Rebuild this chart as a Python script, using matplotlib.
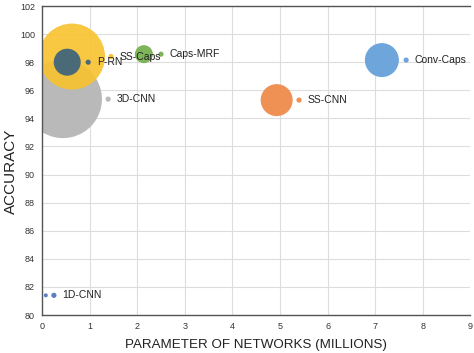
import matplotlib.pyplot as plt

plt.rcParams['font.family'] = ['Liberation Sans', 'DejaVu Sans']

models = ['1D-CNN', '3D-CNN', 'SS-Caps', 'P-RN', 'Caps-MRF', 'SS-CNN', 'Conv-Caps']
# bubble centres
bubble_x = [0.08, 0.44, 0.63, 0.53, 2.14, 4.93, 7.14]
bubble_y = [81.4, 95.37, 98.4, 98.0, 98.57, 95.3, 98.15]
# bubble radius (relative units, as drawn)
bubble_r = [2, 39, 33, 13.5, 9, 16, 17]
# label markers
dot_x = [0.25, 1.39, 1.45, 0.97, 2.5, 5.4, 7.65]
dot_y = [81.4, 95.37, 98.4, 98.0, 98.57, 95.3, 98.15]
colors = ['#5b7fbf', '#b9b9b9', '#f9c22e', '#4b6a78', '#7fb55a', '#ef9055', '#6ea6dc']
order = [1, 2, 3, 4, 5, 6, 0]

fig = plt.figure(figsize=(4.74, 3.53), dpi=100)
ax = fig.add_axes([0.0886, 0.1076, 0.9038, 0.8754])

for i in order:
    r_pt = bubble_r[i] * 0.72
    ax.scatter(bubble_x[i], bubble_y[i], s=(2 * r_pt) ** 2, color=colors[i],
               alpha=0.9 if i == 2 else 1.0, edgecolors='none', zorder=2 + order.index(i) * 0.1)
    ax.scatter(dot_x[i], dot_y[i], s=14, color=colors[i], edgecolors='none', zorder=4)
    ax.text(dot_x[i] + 0.18, dot_y[i], models[i], fontsize=7.5, color='#222222',
            va='center', ha='left', zorder=5)

ax.set_xlim(0, 9)
ax.set_ylim(80, 102)
ax.set_xticks(range(0, 10))
ax.set_yticks(range(80, 103, 2))
ax.grid(True, color='#dddddd', lw=0.8, zorder=0)
ax.set_axisbelow(True)
ax.tick_params(length=0, labelsize=6.5, labelcolor='#333333', pad=5)
for s in ['left', 'bottom', 'top']:
    ax.spines[s].set_color('#555555')
    ax.spines[s].set_linewidth(1.0)
ax.spines['right'].set_visible(False)

ax.set_xlabel('PARAMETER OF NETWORKS (MILLIONS)', fontsize=9.6, color='#222222', labelpad=6)
ax.set_ylabel('ACCURACY', fontsize=11, color='#222222')
ax.yaxis.set_label_coords(-0.055, 0.465)

plt.savefig('out.png', dpi=100)
